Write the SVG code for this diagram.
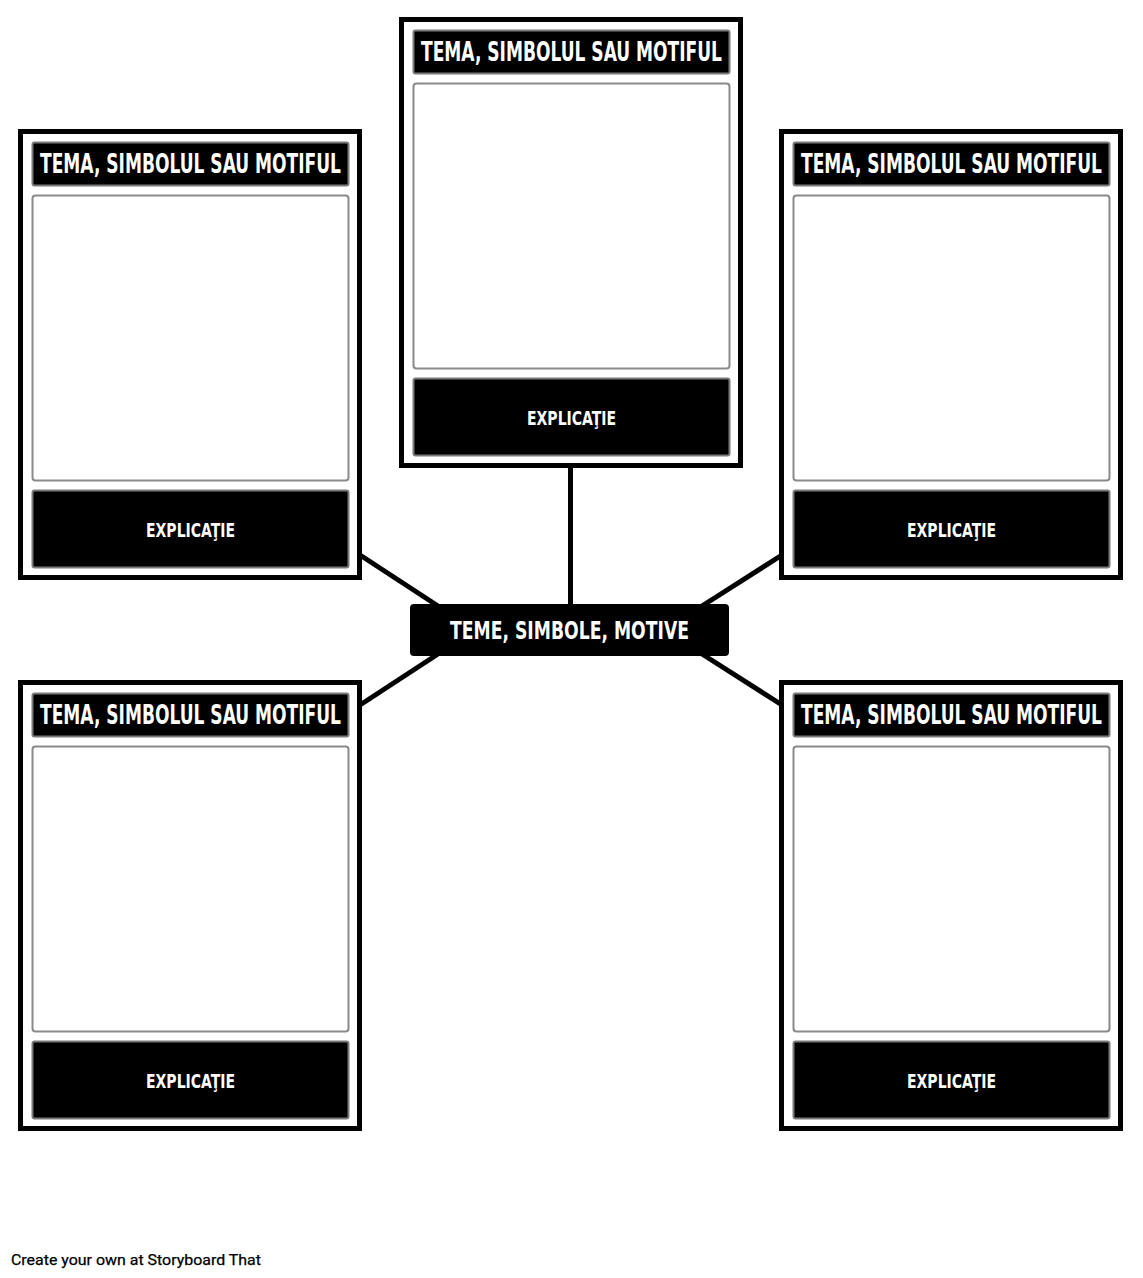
<svg xmlns="http://www.w3.org/2000/svg" xmlns:xlink="http://www.w3.org/1999/xlink" width="1143" height="1278" viewBox="0 0 1143 1278">
<style>
.outer{fill:#fff;stroke:#000;stroke-width:5}
.bar{fill:#000;stroke:#7a7a7a;stroke-width:2}
.img{fill:#fff;stroke:#8a8a8a;stroke-width:2}
.t{font-family:"DejaVu Sans Condensed","Liberation Sans Narrow","Roboto",sans-serif;font-weight:bold;fill:#fff;text-anchor:middle}
.title{font-size:27px}
.expl{font-size:20px}
.conn{stroke:#000;stroke-width:5;fill:none}
.foot{font-family:"Roboto","Liberation Sans",sans-serif;font-size:15px;font-weight:normal;fill:#000;stroke:#000;stroke-width:0.25}
</style>
<defs>
<g id="card">
<rect class="outer" x="2.5" y="2.5" width="339" height="446"/>
<rect class="bar" x="14.5" y="13.5" width="316" height="43" rx="2"/>
<rect class="img" x="14.5" y="66.5" width="316" height="285" rx="3"/>
<rect class="bar" x="14.5" y="361.5" width="316" height="77" rx="2"/>
<text class="t title" x="172.5" y="43.5" textLength="301" lengthAdjust="spacingAndGlyphs">TEMA, SIMBOLUL SAU MOTIFUL</text>
<text class="t expl" x="172.5" y="408" textLength="89" lengthAdjust="spacingAndGlyphs">EXPLICAŢIE</text>
</g>
</defs>
<rect width="1143" height="1278" fill="#fff"/>
<g id="connectors">
<line class="conn" x1="570.5" y1="466" x2="570.5" y2="606"/>
<line class="conn" x1="360" y1="555" x2="438" y2="606"/>
<line class="conn" x1="360" y1="705" x2="438" y2="654"/>
<line class="conn" x1="782" y1="555" x2="702" y2="606"/>
<line class="conn" x1="782" y1="705" x2="702" y2="654"/>
</g>
<g id="card-top"><use xlink:href="#card" x="399" y="17"/></g>
<g id="card-left-top"><use xlink:href="#card" x="18" y="129"/></g>
<g id="card-right-top"><use xlink:href="#card" x="779" y="129"/></g>
<g id="card-left-bottom"><use xlink:href="#card" x="18" y="680"/></g>
<g id="card-right-bottom"><use xlink:href="#card" x="779" y="680"/></g>
<g id="center">
<rect x="410" y="604" width="319" height="52" rx="4" fill="#000"/>
<text class="t" x="569.5" y="638.5" font-size="25" textLength="239" lengthAdjust="spacingAndGlyphs">TEME, SIMBOLE, MOTIVE</text>
</g>
<text class="foot" x="11" y="1265" textLength="250" lengthAdjust="spacingAndGlyphs">Create your own at Storyboard That</text>
</svg>
